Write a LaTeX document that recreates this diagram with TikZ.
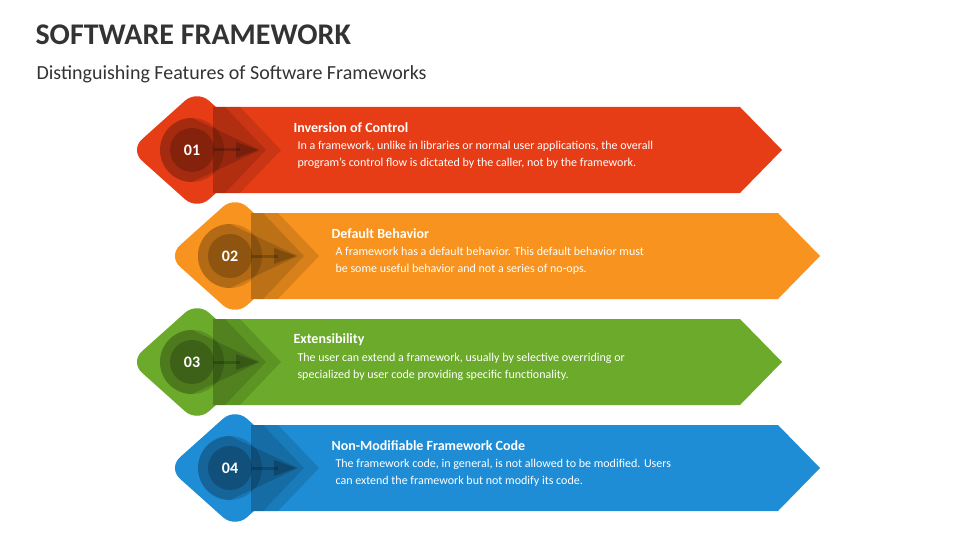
\documentclass[tikz,border=0pt]{standalone}
\usepackage{fontspec}
\setmainfont{Carlito}
\usetikzlibrary{positioning}
\definecolor{cred}{HTML}{E63D17}
\definecolor{corange}{HTML}{F7931E}
\definecolor{cgreen}{HTML}{6BAA2A}
\definecolor{cblue}{HTML}{1E8DD6}
\definecolor{ctitle}{HTML}{333333}

\begin{document}
\begin{tikzpicture}[x=1pt, y=-1pt,
    title/.style={anchor=west, text=ctitle, font=\bfseries\fontsize{30}{34}\selectfont},
    subtitle/.style={anchor=west, text=ctitle, font=\fontsize{20}{24}\selectfont},
    heading/.style={anchor=west, text=white, font=\bfseries\fontsize{14}{16}\selectfont},
    body/.style={anchor=north west, text=white, align=left, font=\fontsize{12}{17}\selectfont},
    number/.style={text=white, font=\bfseries\fontsize{16}{18}\selectfont},
    shade/.style={fill=black, fill opacity=#1, draw=none}
]
    \useasboundingbox (0,0) rectangle (960,540);

    % Title
    \node (title) [title] at (32,35) {SOFTWARE FRAMEWORK};
    \node (sub) [subtitle] at (33,74) {Distinguishing Features of Software Frameworks};

    % Rows
    \foreach \cy/\dx/\col/\num/\head/\txt in {
        150/0/cred/01/Inversion of Control/{In a framework, unlike in libraries or normal user applications, the overall\\program's control flow is dictated by the caller, not by the framework.},
        256/38/corange/02/Default Behavior/{A framework has a default behavior. This default behavior must\\be some useful behavior and not a series of no-ops.},
        362/0/cgreen/03/Extensibility/{The user can extend a framework, usually by selective overriding or\\specialized by user code providing specific functionality.},
        468/38/cblue/04/Non-Modifiable Framework Code/{The framework code, in general, is not allowed to be modified. Users\\can extend the framework but not modify its code.}}
    {
        \begin{scope}[xshift=\dx]
            % banner
            \fill[\col] (200,\cy-43) -- (740,\cy-43) -- (782,\cy) -- (740,\cy+43) -- (200,\cy+43) -- cycle;
            % diamond
            \fill[\col, rounded corners=16pt] (130,\cy) -- (197,\cy-60) -- (264,\cy) -- (197,\cy+60) -- cycle;
            % chevrons
            \path[shade=0.12] (213,\cy-43) -- (240,\cy-43) -- (281,\cy) -- (240,\cy+43) -- (213,\cy+43) -- cycle;
            \path[shade=0.12] (213,\cy-43) -- (225,\cy-43) -- (266,\cy) -- (225,\cy+43) -- (213,\cy+43) -- cycle;
            % pointer
            \path[shade=0.15] (192,\cy-32) -- (260,\cy) -- (192,\cy+32) arc[start angle=90, end angle=270, radius=32] -- cycle;
            \path[shade=0.15] (192,\cy) circle[radius=32];
            \path[shade=0.2] (192,\cy) circle[radius=22];
            \draw[black, opacity=0.2, line width=3pt] (214,\cy) -- (240,\cy);
            \path[shade=0.2] (236,\cy-8) -- (258,\cy) -- (236,\cy+8) -- cycle;
            \node (n\num) [number] at (192,\cy) {\num};
            % texts
            \node (h\num) [heading] at (290,\cy-22) {\head};
            \node (t\num) [body] at (294,\cy-12) {\txt};
        \end{scope}
    }
\end{tikzpicture}
\end{document}
